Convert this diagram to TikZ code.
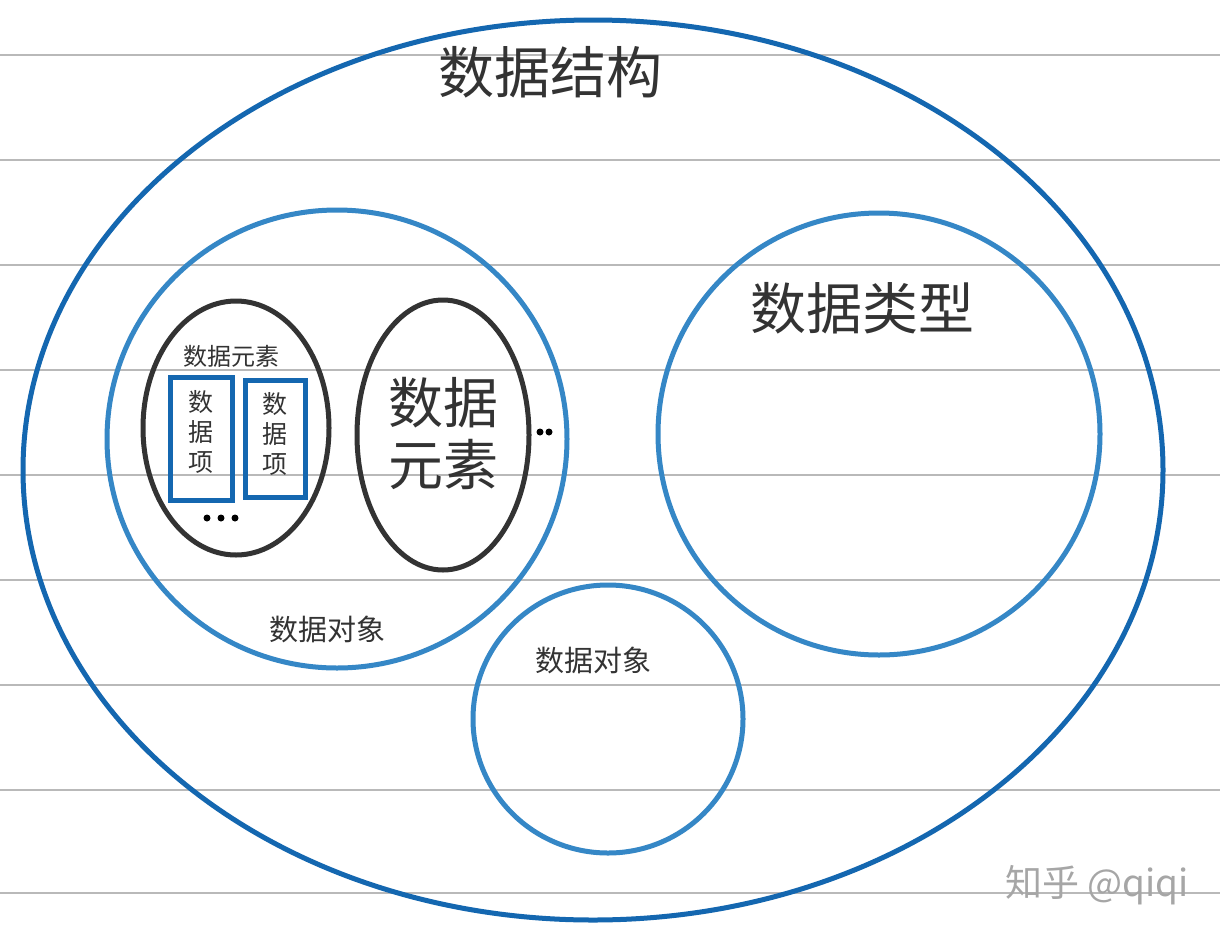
\documentclass[tikz,border=0pt]{standalone}
\usepackage{fontspec}
\setmainfont{Noto Sans CJK SC}
\begin{document}
\begin{tikzpicture}[x=1pt,y=-1pt,
  ruled/.style={gray!55,line width=1.2pt},
  txt/.style={text=black!80,inner sep=0pt}]
\useasboundingbox[fill=white] (0,0) rectangle (1220,940);
\foreach \y in {55,160,265,370,475,580,685,790,893}
  \draw[ruled] (0,\y) -- (1220,\y);
\definecolor{db}{HTML}{1467B0}
\definecolor{lb}{HTML}{3587C6}
\draw[draw=db,line width=5pt] (593,470) ellipse (570 and 450);
\node[txt,font=\fontsize{56}{56}\selectfont] (t1) at (550,72) {数据结构};
\draw[draw=lb,line width=5pt] (337,439) ellipse (230 and 229);
\draw[draw=lb,line width=5pt] (879,434) ellipse (221 and 221);
\draw[draw=lb,line width=5pt] (608,719) ellipse (135 and 134);
\node[txt,font=\fontsize{56}{56}\selectfont] (t2) at (862,308) {数据类型};
\node[txt,font=\fontsize{29}{29}\selectfont] (t3) at (593,660) {数据对象};
\node[txt,font=\fontsize{29}{29}\selectfont] (t4) at (327,629) {数据对象};
\draw[draw=black!80,line width=5pt] (236,428) ellipse (93 and 127);
\node[txt,font=\fontsize{24}{24}\selectfont] (t5) at (231,356) {数据元素};
\draw[draw=db,line width=5pt] (170,377) rectangle (232,500);
\draw[draw=db,line width=5pt] (245,380) rectangle (305,497);
\node[txt,font=\fontsize{25}{30}\selectfont,align=center] (i1) at (201,432) {数\\据\\项};
\node[txt,font=\fontsize{25}{30}\selectfont,align=center] (i2) at (275,434) {数\\据\\项};
\foreach \x in {207,221,235} \fill (\x,518) circle (3.5);
\draw[draw=black!80,line width=5pt] (443,435) ellipse (86 and 135);
\node[txt,font=\fontsize{55}{62}\selectfont,align=center] (e2) at (443,433) {数据\\元素};
\foreach \x in {540,549} \fill (\x,432) circle (3.5);
\node[txt,text=gray!70,font=\fontsize{37}{37}\selectfont] (wm) at (1097,885) {知乎 @qiqi};
\end{tikzpicture}
\end{document}
